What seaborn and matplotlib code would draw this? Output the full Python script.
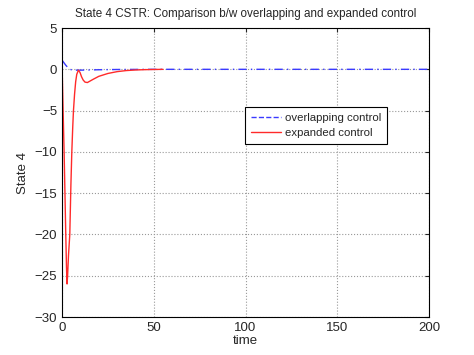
import numpy as np
import pandas as pd
import matplotlib
matplotlib.use('Agg')
import matplotlib.pyplot as plt
import seaborn as sns
from matplotlib.lines import Line2D

sns.set_style('white')
plt.rcParams['font.family'] = ['Liberation Sans', 'DejaVu Sans']

# overlapping control (blue, dash-dot)
t_over = [0, 1, 2, 3, 4, 5, 6, 8, 10, 15, 20, 30, 50, 100, 150, 200]
x_over = [1.1, 0.8, 0.5, 0.25, 0.05, -0.05, -0.1, -0.1, -0.1, -0.08, -0.05, -0.02, 0.0, 0.0, 0.0, 0.0]

# expanded control (red, solid)
t_exp = [0, 0.5, 1.1, 1.6, 2.0, 2.4, 2.7, 3.0, 3.5, 4.2, 4.8, 5.3, 5.8, 6.2, 6.8, 7.4,
         8.0, 8.9, 9.8, 10.6, 11.5, 12.5, 13.8, 15, 17, 20, 25, 30, 35, 40, 45, 50, 55]
x_exp = [0.3, -4.5, -10.0, -15.5, -20.0, -24.0, -26.0, -25.0, -22.5, -20.0, -14.0, -10.0, -7.0, -5.0, -3.0, -1.5,
         -0.6, -0.1, -0.4, -0.9, -1.3, -1.55, -1.6, -1.45, -1.2, -0.85, -0.5, -0.28, -0.15, -0.08, -0.04, -0.02, 0.0]

df_over = pd.DataFrame({'time': t_over, 'state': x_over})
df_exp = pd.DataFrame({'time': t_exp, 'state': x_exp})

fig, ax = plt.subplots(figsize=(4.74, 3.55), dpi=100)
sns.lineplot(data=df_over, x='time', y='state', ax=ax, color='#3a3aff',
             linestyle='-.', linewidth=1.0, dashes=False)
ax.lines[-1].set_dashes([6, 3, 1, 3])
sns.lineplot(data=df_exp, x='time', y='state', ax=ax, color='#ff2a2a',
             linewidth=1.0)

ax.set_xlim(0, 200)
ax.set_ylim(-30, 5)
ax.set_xticks([0, 50, 100, 150, 200])
ax.set_yticks([-30, -25, -20, -15, -10, -5, 0, 5])
ax.grid(True, linestyle=':', color='#999999', linewidth=0.8)
ax.tick_params(direction='in', labelsize=9.5, length=3, top=True, right=True)
for s in ax.spines.values():
    s.set_visible(True)
    s.set_color('black')
    s.set_linewidth(0.8)

ax.set_xlabel('time', fontsize=9.5, labelpad=1)
ax.set_ylabel('State 4', fontsize=9.5)
ax.set_title('State 4 CSTR: Comparison b/w overlapping and expanded control',
             fontsize=8.4, pad=8)

handles = [Line2D([], [], color='#3a3aff', linestyle='--', linewidth=1.0),
           Line2D([], [], color='#ff2a2a', linewidth=1.0)]
leg = ax.legend(handles, ['overlapping control', 'expanded control'], loc='center',
                bbox_to_anchor=(0.693, 0.663), fontsize=8.2, fancybox=False,
                framealpha=1, edgecolor='black', handlelength=2.6,
                handletextpad=0.4, borderpad=0.5, labelspacing=0.45)
leg.get_frame().set_linewidth(0.8)

plt.subplots_adjust(left=0.131, right=0.905, top=0.921, bottom=0.107)
plt.savefig('out.png', dpi=100)
plt.close()
